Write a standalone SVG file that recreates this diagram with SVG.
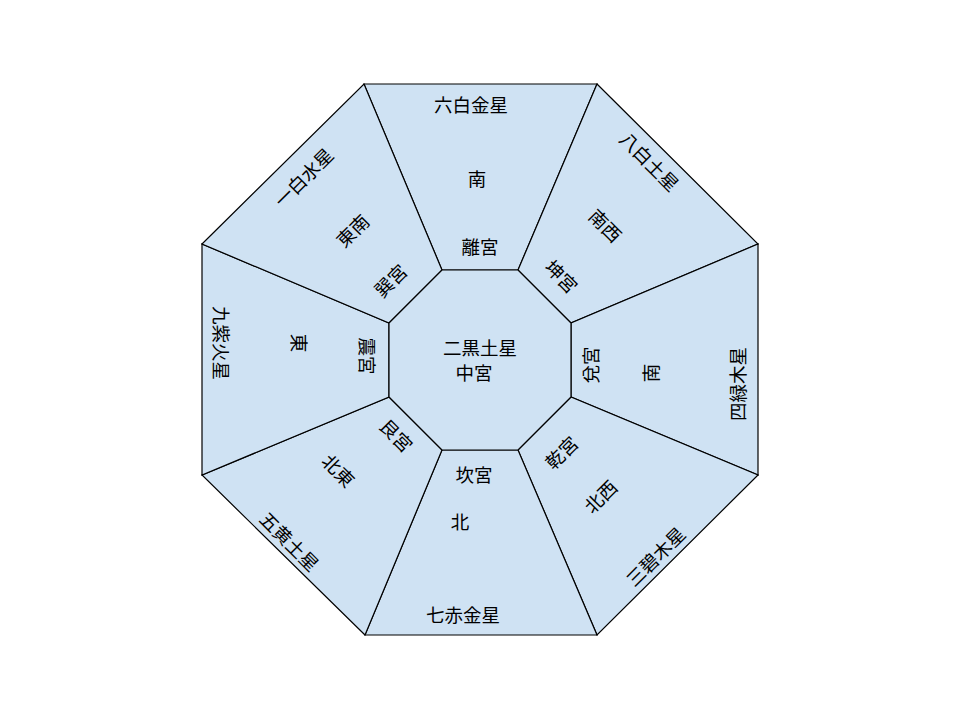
<svg xmlns="http://www.w3.org/2000/svg" width="960" height="720" viewBox="0 0 960 720">
<style>
.seg{fill:#cfe2f3;stroke:#000;stroke-width:1.2;stroke-linejoin:miter}
text{font-family:"Noto Sans CJK JP","Noto Sans CJK SC",sans-serif;font-size:18.5px;fill:#000;text-anchor:middle;dominant-baseline:central}
</style>
<rect width="960" height="720" fill="#fff"/>
<g id="south">
<polygon class="seg" points="364,84 597,84 518,270 442,270"/>
<text x="471" y="104">六白金星</text>
<text x="477" y="178">南</text>
<text x="480" y="246">離宮</text>
</g>
<g id="southwest">
<polygon class="seg" points="597,84 758,244 571,323 518,270"/>
<text transform="translate(650,161) rotate(45)">八白土星</text>
<text transform="translate(606,225) rotate(45)">南西</text>
<text transform="translate(562,276) rotate(45)">坤宮</text>
</g>
<g id="west">
<polygon class="seg" points="758,244 758,475 571,397 571,323"/>
<text transform="translate(737,384) rotate(-90)">四緑木星</text>
<text transform="translate(650,373) rotate(-90)">南</text>
<text transform="translate(590,365) rotate(-90)">兌宮</text>
</g>
<g id="northwest">
<polygon class="seg" points="758,475 597,635 518,450 571,397"/>
<text transform="translate(655,556) rotate(-45)">三碧木星</text>
<text transform="translate(600,496) rotate(-45)">北西</text>
<text transform="translate(561,452) rotate(-45)">乾宮</text>
</g>
<g id="north">
<polygon class="seg" points="597,635 365,635 442,450 518,450"/>
<text x="463" y="614">七赤金星</text>
<text x="460" y="521">北</text>
<text x="474" y="474">坎宮</text>
</g>
<g id="northeast">
<polygon class="seg" points="365,635 202,475 389,397 442,450"/>
<text transform="translate(290,541) rotate(45)">五黄土星</text>
<text transform="translate(339,470) rotate(45)">北東</text>
<text transform="translate(397,435) rotate(45)">艮宮</text>
</g>
<g id="east">
<polygon class="seg" points="202,475 202,244 389,323 389,397"/>
<text transform="translate(222,343) rotate(90)">九紫火星</text>
<text transform="translate(300,343) rotate(90)">東</text>
<text transform="translate(368,356) rotate(90)">震宮</text>
</g>
<g id="southeast">
<polygon class="seg" points="202,244 364,84 442,270 389,323"/>
<text transform="translate(303,177) rotate(-45)">一白水星</text>
<text transform="translate(352,230) rotate(-45)">東南</text>
<text transform="translate(390,280) rotate(-45)">巽宮</text>
</g>
<g id="center">
<polygon class="seg" points="442,270 518,270 571,323 571,397 518,450 442,450 389,397 389,323"/>
<text x="480" y="347">二黒土星</text>
<text x="474" y="372">中宮</text>
</g>
<g id="connectors"/>
</svg>
